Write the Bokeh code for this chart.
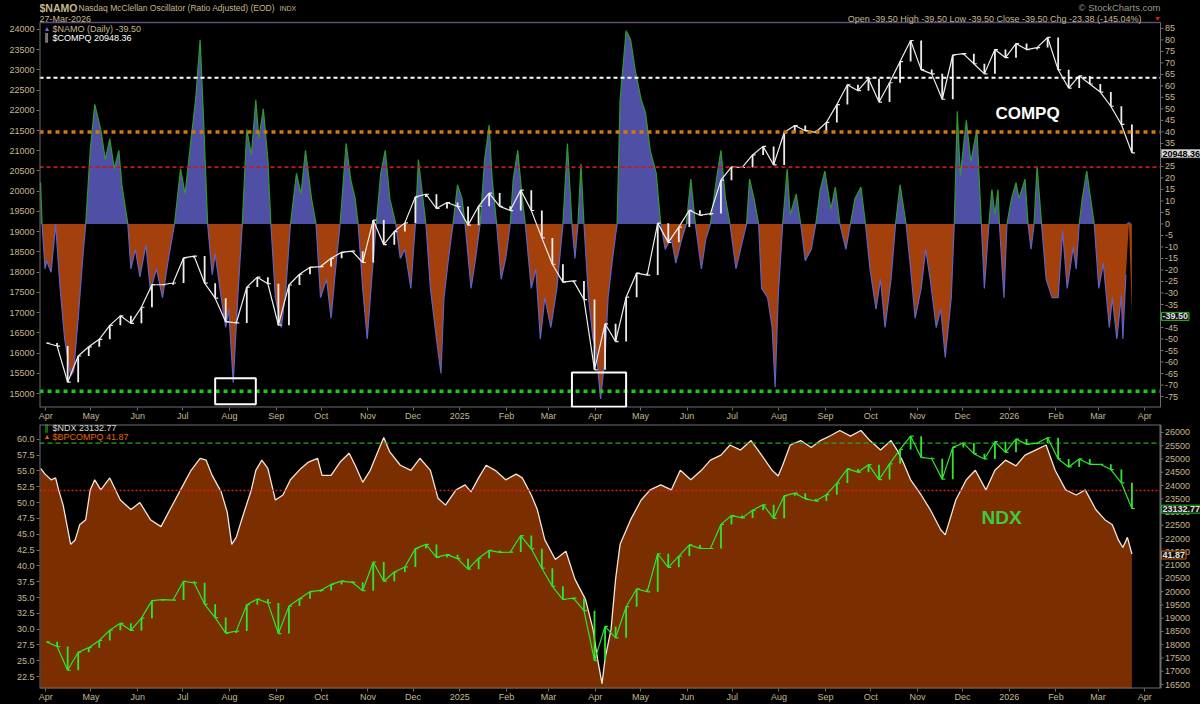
import numpy as np
import pandas as pd
from bokeh.plotting import figure
from bokeh.layouts import column
from bokeh.models import Range1d, FixedTicker, Label, BoxAnnotation
from bokeh.core.properties import value
from bokeh.embed import file_html
from bokeh.resources import INLINE

# ---------------- data ----------------
namo_dates = [
 "2024-04-01","2024-04-02","2024-04-04","2024-04-05","2024-04-08","2024-04-11","2024-04-14","2024-04-17","2024-04-21","2024-04-23",
 "2024-04-26","2024-04-29","2024-05-01","2024-05-04","2024-05-07","2024-05-11","2024-05-14","2024-05-17","2024-05-20","2024-05-23",
 "2024-05-25","2024-05-29","2024-05-31","2024-06-03","2024-06-06","2024-06-10","2024-06-13","2024-06-17","2024-06-21","2024-06-25",
 "2024-06-29","2024-07-03","2024-07-06","2024-07-10","2024-07-13","2024-07-16","2024-07-18","2024-07-21","2024-07-24","2024-07-26",
 "2024-07-30","2024-08-02","2024-08-04","2024-08-07","2024-08-10","2024-08-13","2024-08-16","2024-08-19","2024-08-22","2024-08-24",
 "2024-08-27","2024-08-30","2024-09-01","2024-09-04","2024-09-08","2024-09-11","2024-09-14","2024-09-18","2024-09-21","2024-09-24",
 "2024-09-28","2024-10-01","2024-10-04","2024-10-08","2024-10-11","2024-10-14","2024-10-17","2024-10-21","2024-10-24","2024-10-27",
 "2024-10-29","2024-11-01","2024-11-04","2024-11-07","2024-11-10","2024-11-13","2024-11-16","2024-11-19","2024-11-23","2024-11-26",
 "2024-11-29","2024-12-03","2024-12-06","2024-12-08","2024-12-11","2024-12-13","2024-12-16","2024-12-20","2024-12-23","2024-12-25",
 "2024-12-28","2024-12-31","2025-01-03","2025-01-06","2025-01-08","2025-01-12","2025-01-15","2025-01-18","2025-01-21","2025-01-24",
 "2025-01-26","2025-01-29","2025-02-01","2025-02-04","2025-02-07","2025-02-09","2025-02-12","2025-02-15","2025-02-17","2025-02-21",
 "2025-02-24","2025-02-27","2025-03-02","2025-03-06","2025-03-10","2025-03-14","2025-03-17","2025-03-20","2025-03-22","2025-03-24",
 "2025-03-26","2025-03-28","2025-03-31","2025-04-03","2025-04-05","2025-04-08","2025-04-11","2025-04-13","2025-04-16","2025-04-19",
 "2025-04-21","2025-04-25","2025-04-28","2025-05-01","2025-05-05","2025-05-08","2025-05-11","2025-05-15","2025-05-18","2025-05-21",
 "2025-05-25","2025-05-28","2025-06-01","2025-06-04","2025-06-07","2025-06-10","2025-06-14","2025-06-17","2025-06-20","2025-06-24",
 "2025-06-27","2025-06-30","2025-07-03","2025-07-07","2025-07-10","2025-07-14","2025-07-16","2025-07-19","2025-07-22","2025-07-24",
 "2025-07-28","2025-07-31","2025-08-02","2025-08-04","2025-08-07","2025-08-10","2025-08-12","2025-08-16","2025-08-19","2025-08-22",
 "2025-08-26","2025-08-29","2025-09-01","2025-09-04","2025-09-08","2025-09-11","2025-09-14","2025-09-18","2025-09-21","2025-09-24",
 "2025-09-28","2025-10-01","2025-10-04","2025-10-08","2025-10-11","2025-10-14","2025-10-18","2025-10-21","2025-10-24","2025-10-28",
 "2025-10-31","2025-11-03","2025-11-07","2025-11-10","2025-11-13","2025-11-17","2025-11-20","2025-11-23","2025-11-27","2025-11-29",
 "2025-12-01","2025-12-03","2025-12-07","2025-12-10","2025-12-14","2025-12-17","2025-12-19","2025-12-22","2025-12-24","2025-12-26",
 "2025-12-28","2025-12-29","2026-01-01","2026-01-03","2026-01-06","2026-01-09","2026-01-11","2026-01-15","2026-01-17","2026-01-19",
 "2026-01-21","2026-01-23","2026-01-26","2026-01-29","2026-02-02","2026-02-06","2026-02-09","2026-02-12","2026-02-16","2026-02-18",
 "2026-02-20","2026-02-22","2026-02-25","2026-02-28","2026-03-02","2026-03-05","2026-03-08","2026-03-12","2026-03-14","2026-03-17",
 "2026-03-20","2026-03-21","2026-03-23","2026-03-25","2026-03-27"]
namo_vals = [
 18,0,-19.5,-16,-21,0,-28,-50,-66,-64,
 -41,-15,0,32,52,41,28,37,24,32,
 17,0,-19.5,-11,-23,-9,-29,-19.5,-32,-15,
 0,24,13,37,54,80,50,0,-22,-13,
 -32,-45,-37,-69,-32,0,41,30,54,37,
 50,28,0,-32,-45,-28,0,22,13,32,
 11,0,-32,-24,-41,-19.5,0,35,19.5,11,
 0,-28,-50,-24,0,22,32,11,0,-15,
 -11,-28,0,28,11,0,-28,-50,-65,-32,
 -15,0,17,11,0,-28,-15,0,28,43,
 19.5,0,-24,-15,0,19.5,32,11,0,-28,
 -19.5,-50,-32,-45,-28,0,35,0,-15,0,
 26,0,-32,-50,-54,-76,-58,-32,-15,0,
 54,84,80,67,54,48,32,22,0,-11,
 -6,-17,-6.5,0,19.5,0,-19.5,-6.5,0,19.5,
 32,11,0,-19.5,-11,0,19.5,11,0,-28,
 -32,-45,-71,-32,0,24,4,13,0,-16,
 -11,0,15,23,6.5,16,0,-11,0,11,
 16,0,-19.5,-37,-24,-45,-24,0,17,0,
 -19.5,-41,-28,-11,-24,-45,-37,-58,-32,0,
 49,21,45,27,41,0,-28,0,15,4,
 15,0,-32,0,11,18,11,19.5,0,-11,
 0,25,0,-24,-32,-32,-3,-28,-10,-19.5,
 0,11,23,9,0,-28,-17,-45,-32,-50,
 -31,-50,-22,1,-39.5]

# weekly closes (Fridays 2024-04-05 .. 2026-03-27)
compq_close = [
 16249,16175,15282,15928,16156,16341,16686,16921,16735,17133,17689,17689,17733,
 18352,18398,17727,17358,16776,16745,17631,17877,17714,16691,17683,17948,18119,
 18138,18342,18490,18519,18239,19287,18680,19004,19218,19860,19926,19573,19722,
 19622,19162,19630,19954,19627,19523,20027,19524,18847,18196,17754,17784,17323,
 15588,16724,16286,17383,17978,17929,19211,18737,19114,19530,19407,19447,20273,
 20601,20586,20896,21108,20650,21450,21623,21496,21456,21700,22141,22631,22484,
 22780,22204,22680,23205,23725,23005,22900,22273,23366,23400,23150,22900,23500,
 23300,23650,23500,23550,23800,23000,22550,22850,22650,22450,22100,21650,20948.36]
ndx_close = [
 18108,17930,17037,17718,17890,18162,18546,18808,18537,19000,19660,19700,19683,
 20392,20332,19523,19023,18440,18513,19508,19721,19575,18421,19455,19736,20000,
 20045,20272,20397,20352,20033,21117,20394,20741,20930,21622,21780,21289,21395,
 21244,20847,21259,21554,21478,21491,22114,21614,20884,20201,19704,19754,19281,
 17398,18690,18258,19432,20102,19995,21428,20915,21341,21761,21631,21626,22534,
 22867,22780,23066,23272,22763,23611,23712,23499,23415,23653,24092,24626,24503,
 24785,24222,24818,25358,25858,25059,25008,24240,25435,25600,25200,25000,25650,
 25250,25750,25550,25600,25800,25000,24700,25000,24800,24800,24600,24100,23132.77]

bp_dates = [
 "2024-04-01","2024-04-04","2024-04-08","2024-04-11","2024-04-13","2024-04-16","2024-04-21","2024-04-24","2024-04-27","2024-05-01",
 "2024-05-04","2024-05-07","2024-05-11","2024-05-17","2024-05-24","2024-05-31","2024-06-06","2024-06-13","2024-06-20","2024-06-26",
 "2024-07-03","2024-07-10","2024-07-16","2024-07-20","2024-07-24","2024-07-30","2024-08-03","2024-08-06","2024-08-09","2024-08-13",
 "2024-08-19","2024-08-22","2024-08-26","2024-08-30","2024-09-04","2024-09-09","2024-09-14","2024-09-21","2024-09-26","2024-10-02",
 "2024-10-05","2024-10-11","2024-10-17","2024-10-23","2024-10-27","2024-11-01","2024-11-06","2024-11-12","2024-11-15","2024-11-19",
 "2024-11-26","2024-12-03","2024-12-09","2024-12-16","2024-12-21","2024-12-26","2025-01-02","2025-01-08","2025-01-12","2025-01-17",
 "2025-01-22","2025-01-28","2025-02-04","2025-02-11","2025-02-15","2025-02-21","2025-02-25","2025-03-02","2025-03-09","2025-03-16",
 "2025-03-22","2025-03-29","2025-04-03","2025-04-06","2025-04-09","2025-04-11","2025-04-15","2025-04-18","2025-04-21","2025-04-28",
 "2025-05-05","2025-05-11","2025-05-18","2025-05-25","2025-05-31","2025-06-07","2025-06-14","2025-06-20","2025-06-27","2025-07-03",
 "2025-07-10","2025-07-17","2025-07-24","2025-07-31","2025-08-04","2025-08-07","2025-08-12","2025-08-19","2025-08-26","2025-09-01",
 "2025-09-08","2025-09-14","2025-09-21","2025-09-28","2025-10-04","2025-10-11","2025-10-18","2025-10-22","2025-10-26","2025-10-31",
 "2025-11-07","2025-11-13","2025-11-20","2025-11-23","2025-11-30","2025-12-07","2025-12-13","2025-12-20","2025-12-26","2026-01-02",
 "2026-01-09","2026-01-15","2026-01-22","2026-01-29","2026-02-04","2026-02-11","2026-02-18","2026-02-24","2026-03-03","2026-03-09",
 "2026-03-14","2026-03-18","2026-03-21","2026-03-24","2026-03-27"]
bp_vals = [
 55.4,54.5,53.6,53.9,52,49.6,43.4,44.1,46.5,47.3,
 52,53.6,52,53.9,50.4,48.9,50,47.3,46.2,48.9,
 52,55.1,57,56.7,54.3,51.7,48.5,43.4,44.5,47.6,
 52,55.1,56.7,55.4,50.4,51.2,53.6,55.4,56.4,57,
 54.3,54.3,56.4,57.8,55.9,53.2,55.1,58.6,60.3,58,
 55.9,55.1,57,55.1,50.7,49.6,52,52.8,51.7,53.9,
 55.9,55.1,53.6,54.5,53.9,51.2,48.9,44.1,41,42.3,
 37.9,34.7,30,25.3,21.4,25.3,30,37.9,43.4,47.3,
 50.4,52,52.8,52,55.1,53.6,55.1,56.7,57.5,59.1,
 58.3,59.8,57.5,55.1,54.2,55.9,59.1,59.8,58.7,59.8,
 60.6,61.4,60.5,61.4,59.8,58.3,59.8,58.3,56.4,53.6,
 51.2,48.9,45.7,44.9,50.4,53.6,55.1,52,55.1,56.7,
 55.8,57.5,58.3,59.1,55.1,52,51.2,52,48.9,47.3,
 46.5,44.1,42.9,44.5,41.87]

month_labels = ["Apr","May","Jun","Jul","Aug","Sep","Oct","Nov","Dec","2025","Feb","Mar",
                "Apr","May","Jun","Jul","Aug","Sep","Oct","Nov","Dec","2026","Feb","Mar","Apr"]
compq_ticks = list(range(15000, 24001, 500))
namo_ticks = list(range(-75, 86, 5))
bp_ticks = [22.5 + 2.5 * i for i in range(17)]
ndx_ticks = list(range(16500, 26001, 500))
namo_levels = [63.5, 40, 24.7, -72.7]          # white, orange, red, green
bp_levels = [59.4, 51.9]                       # green, red
box_left = ["2024-07-26", "2025-03-20"]
box_right = ["2024-08-22", "2025-04-25"]
box_top = [-67, -64.5]
box_bottom = [-78.4, -79.4]
last_namo, last_compq, last_ndx, last_bp = -39.50, 20948.36, 23132.77, 41.87

# ---------------- geometry helpers ----------------
def to_ms(seq):
    s = pd.to_datetime(pd.Series(list(seq)))
    return ((s - pd.Timestamp("1970-01-01")) / pd.Timedelta(milliseconds=1)).to_numpy(dtype=float)

DAY = 86400000.0
week_ms = to_ms(pd.date_range("2024-04-05", "2026-03-27", freq="W-FRI"))
month_ms = to_ms(pd.date_range("2024-04-01", "2026-04-01", freq="MS"))
label_ms = month_ms + 3.5 * DAY               # StockCharts prints month names just right of the month start
t0 = month_ms[0]
PXD = 1121 / 744.7                          # pixels per day
x0 = t0 - 0.7 * DAY                         # at canvas x = 39
x1 = x0 + (1200 - 39) / PXD * DAY           # at canvas x = 1200 (frame covers axis strip)
def X(px):
    return x0 + (px - 39) / PXD * DAY
XR = X(1160)                                # panel's right edge (axis line)

def lin(py, top_py, top_v, bot_py, bot_v):
    return bot_v + (bot_py - py) * (top_v - bot_v) / (bot_py - top_py)
C_LO, C_TOP = 14656, lin(0, 22, 24172, 409, 14656)
N_LO, N_TOP = -79.76, lin(0, 22, 87.6, 409, -79.76)
C_BOX = 24172
B_LO, B_HI = 20.62, 62.34
D_LO, D_HI = 16350, 26299

BG = "black"
TXT = "#c5b78f"
FRAME = "#6e6e6e"
FONT = "Liberation Sans"

def style_axis(ax, ticks, labels=None):
    ax.ticker = FixedTicker(ticks=list(ticks))
    if labels is not None:
        ax.major_label_overrides = {float(t): l for t, l in zip(ticks, labels)}
    ax.major_label_text_color = TXT
    ax.major_label_text_font = FONT
    ax.major_label_text_font_size = "9px"
    ax.axis_line_color = None
    ax.major_tick_line_color = FRAME
    ax.major_tick_out = 3
    ax.major_tick_in = 0
    ax.minor_tick_line_color = None
    ax.major_label_standoff = 2

def clbl(p, x, y, text, color=TXT, size="9px", style="normal", align="left", **kw):
    p.add_layout(Label(x=x, y=y, x_units="canvas", y_units="canvas", text=text,
                       text_color=color, text_font=FONT, text_font_size=size,
                       text_font_style=style, text_align=align, text_baseline="middle", **kw))

def price_bars(p, xs, closes, color, **kw):
    c = np.array(closes, dtype=float)
    prev = np.r_[c[0], c[:-1]]
    p.line(xs, c, line_color=color, line_width=1.2, **kw)
    p.segment(x0=xs, y0=prev, x1=xs, y1=c, line_color=color, line_width=1.8, **kw)
    p.segment(x0=xs, y0=c, x1=xs + 2.0 * DAY, y1=c, line_color=color, line_width=1.2, **kw)

def right_axis(p, ticks, labels, rng=None):
    kw = {"y_range_name": rng} if rng else {}
    n = len(ticks)
    p.segment(x0=[XR] * n, y0=ticks, x1=[X(1163)] * n, y1=ticks, line_color=FRAME, line_width=1, **kw)
    p.text(x=[X(1164.5)] * n, y=ticks, text=labels, text_color=TXT, text_font=value(FONT),
           text_font_size="9px", text_baseline="middle", text_align="left", **kw)

def hline(p, lev, color, dash, width, **kw):
    p.segment(x0=[x0], y0=[lev], x1=[XR], y1=[lev], line_color=color, line_dash=dash, line_width=width, **kw)

def tag_y(v, lo, top, canvas_top, canvas_bot):
    return canvas_top + (top - v) / (top - lo) * (canvas_bot - canvas_top)

# ---------------- top panel ----------------
p1 = figure(width=1200, height=423, x_range=Range1d(x0, x1), y_range=Range1d(C_LO, C_TOP),
            output_backend="svg", toolbar_location=None,
            min_border_left=39, min_border_right=0, min_border_top=0, min_border_bottom=14,
            background_fill_color=BG, border_fill_color=BG, outline_line_color=None)
p1.extra_y_ranges = {"namo": Range1d(N_LO, N_TOP)}
p1.grid.visible = False
style_axis(p1.xaxis[0], label_ms, month_labels)
p1.xaxis[0].major_label_standoff = 0
style_axis(p1.yaxis[0], compq_ticks)

nx = to_ms(namo_dates)
nv = np.array(namo_vals, dtype=float)
p1.varea(x=nx, y1=0, y2=np.where(nv > 0, nv, 0), fill_color="#4f4fa6", y_range_name="namo")
p1.varea(x=nx, y1=0, y2=np.where(nv < 0, nv, 0), fill_color="#a3400b", y_range_name="namo")
p1.line(nx, np.where(nv >= 0, nv, np.nan), line_color="#2f9a2f", line_width=1.2, y_range_name="namo")
p1.line(nx, np.where(nv <= 0, nv, np.nan), line_color="#6262c4", line_width=1.2, y_range_name="namo")

price_bars(p1, week_ms, compq_close, "#eeeeee")

for lev, col, dash, w in zip(namo_levels, ["#ffffff", "#d27a12", "#c41a1a", "#12d012"],
                             ["4 3", "4 4", "4 3", "4 4"], [2, 3.5, 1.6, 3.5]):
    hline(p1, lev, col, dash, w, y_range_name="namo")
for l, r, t, b in zip(box_left, box_right, box_top, box_bottom):
    p1.add_layout(BoxAnnotation(left=to_ms([l])[0], right=to_ms([r])[0], top=t, bottom=b,
                                y_range_name="namo", fill_alpha=0, line_color="white",
                                line_alpha=1.0, line_width=2))

# panel frame (left/bottom sit on the clipped frame edge, hence double width)
p1.segment(x0=[x0, x0], y0=[C_LO, C_LO], x1=[XR, x0], y1=[C_LO, C_BOX], line_color=FRAME, line_width=2)
p1.segment(x0=[XR], y0=[C_LO], x1=[XR], y1=[C_BOX], line_color=FRAME, line_width=1)
p1.segment(x0=[x0], y0=[C_BOX], x1=[XR], y1=[C_BOX], line_color="#5e4e7a", line_width=1.5)
right_axis(p1, namo_ticks, [str(t) for t in namo_ticks], "namo")

clbl(p1, 1027, 113, "COMPQ", color="white", size="17px", style="bold", align="center")
clbl(p1, 43, 28, "\u25b2", color="#6a6ad0", size="7px")
clbl(p1, 52, 28, "$NAMO (Daily) -39.50", color=TXT)
clbl(p1, 43, 37, "\u2551", color="white", size="8px")
clbl(p1, 52, 37, "$COMPQ 20948.36", color="white")
clbl(p1, 39, 7, "$NAMO", color=TXT, size="10.5px", style="bold")
clbl(p1, 78, 7.5, "Nasdaq McClellan Oscillator (Ratio Adjusted) (EOD)", color=TXT, size="8.5px")
clbl(p1, 279, 7.5, "INDX", color=TXT, size="7px")
clbl(p1, 39, 18, "27-Mar-2026", color=TXT, size="9px")
clbl(p1, 1160, 7, "\u00a9 StockCharts.com", color="#9a9a8a", size="9.5px", align="right")
clbl(p1, 1151, 18, "Open -39.50  High -39.50  Low -39.50  Close -39.50  Chg -23.38 (-145.04%)",
     color=TXT, size="9px", align="right")
clbl(p1, 1157, 18, "\u25bc", color="#e02020", size="7px", align="center")
clbl(p1, 1161, tag_y(last_compq, C_LO, C_TOP, 0, 409), f"{last_compq:.2f}", color="black",
     size="9px", style="bold", background_fill_color="#d8d8d8", border_line_color="#999999", padding=1)
clbl(p1, 1161, tag_y(last_namo, N_LO, N_TOP, 0, 409), f"{last_namo:.2f}", color="#e0e0e0",
     size="9px", style="bold", background_fill_color="#101010", border_line_color="#22bb22", padding=1)

# ---------------- bottom panel ----------------
p2 = figure(width=1200, height=281, x_range=p1.x_range, y_range=Range1d(B_LO, B_HI),
            output_backend="svg", toolbar_location=None,
            min_border_left=39, min_border_right=0, min_border_top=1, min_border_bottom=14,
            background_fill_color=BG, border_fill_color=BG, outline_line_color=None)
p2.extra_y_ranges = {"ndx": Range1d(D_LO, D_HI)}
p2.grid.visible = False
style_axis(p2.xaxis[0], label_ms, month_labels)
p2.xaxis[0].major_label_standoff = 0
style_axis(p2.yaxis[0], bp_ticks, [f"{t:.1f}" for t in bp_ticks])

bx = to_ms(bp_dates)
bv = np.array(bp_vals, dtype=float)
p2.varea(x=bx, y1=0, y2=bv, fill_color="#7b2e00")
p2.line(bx, bv, line_color="#f2e6da", line_width=1.3)

for lev, col, dash, w in zip(bp_levels, ["#20a820", "#d42020"], ["5 3", "2 2"], [1.2, 1.6]):
    hline(p2, lev, col, dash, w)

price_bars(p2, week_ms, ndx_close, "#2ee62e", y_range_name="ndx")

p2.segment(x0=[x0, x0, XR], y0=[B_LO, B_LO, B_LO], x1=[XR, x0, XR], y1=[B_LO, B_HI, B_HI],
           line_color=FRAME, line_width=2)
p2.segment(x0=[x0], y0=[B_HI], x1=[XR], y1=[B_HI], line_color=FRAME, line_width=2)
right_axis(p2, ndx_ticks, [str(t) for t in ndx_ticks], "ndx")

clbl(p2, 1001, 517 - 423, "NDX", color="#3ccc3c", size="19px", style="bold", align="center")
clbl(p2, 43, 4, "\u2551", color="#2ee62e", size="8px")
clbl(p2, 52, 4, "$NDX 23132.77", color="#d8d8d8")
clbl(p2, 43, 13, "\u25b2", color="#e8650f", size="7px")
clbl(p2, 52, 13, "$BPCOMPQ 41.87", color="#e8650f")
clbl(p2, 1161, tag_y(last_ndx, D_LO, D_HI, 1, 267), f"{last_ndx:.2f}", color="#e0e0e0",
     size="9px", style="bold", background_fill_color="#101010", border_line_color="#22bb22", padding=1)
clbl(p2, 1161, tag_y(last_bp, B_LO, B_HI, 1, 267), f"{last_bp:.2f}", color="#e0e0e0",
     size="9px", style="bold", background_fill_color="#101010", border_line_color="#d06010", padding=1)

layout = column(p1, p2, spacing=0)
html = file_html(layout, INLINE, title="NAMO")
html = html.replace("<body>", "<body style=\"margin:0;background:#000;\">")
open("out.html", "w").write(html)
